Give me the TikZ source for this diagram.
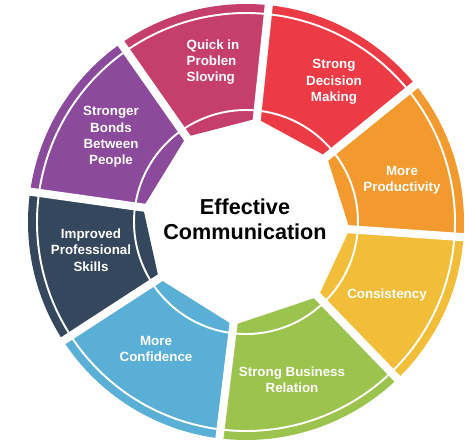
\documentclass[tikz,border=0pt]{standalone}
\usepackage{fontspec}
\setmainfont{Liberation Sans}

\definecolor{segpink}{RGB}{198,62,108}
\definecolor{segred}{RGB}{236,59,69}
\definecolor{segorange}{RGB}{243,154,46}
\definecolor{segyellow}{RGB}{242,190,58}
\definecolor{seggreen}{RGB}{155,195,77}
\definecolor{segblue}{RGB}{90,175,214}
\definecolor{segnavy}{RGB}{52,71,92}
\definecolor{segpurple}{RGB}{139,74,156}

\tikzset{
  lbl/.style={text=white, font=\fontsize{7.6}{9.3}\selectfont\bfseries, align=center},
  rim/.style={white, line width=1.1pt},
  gap/.style={white, line width=4.6pt},
}

\begin{document}
\begin{tikzpicture}[x=0.02cm, y=0.02cm]
\useasboundingbox (-246,-221) rectangle (228,222);
\foreach \a/\b/\c in {84/125/segpink, 39/84/segred, -4/39/segorange, -46/-4/segyellow,
  -97/-46/seggreen, -147/-97/segblue, 172/213/segnavy, 125/172/segpurple} {
  \fill[\c] (\a:104) -- (\b:104)
    -- (\b:218) arc[start angle=\b, end angle=\a, radius=218] -- cycle;
  \draw[rim] (\a:209) arc[start angle=\a, end angle=\b, radius=209];
  \draw[rim] (\a:112) arc[start angle=\a, end angle=\b, radius=112];
}
\foreach \a in {84, 39, -4, -46, -97, -147, 172, 125}
  \draw[gap] (\a:92) -- (\a:226);

\node[lbl, align=left] (quick) at (-33,160) {Quick in\\Problen\\Sloving};
\node[lbl] (decision) at (88,140) {Strong\\Decision\\Making};
\node[lbl] (productivity) at (156,42) {More\\Productivity};
\node[lbl] (consistency) at (141,-73) {Consistency};
\node[lbl] (business) at (46,-158) {Strong Business\\Relation};
\node[lbl] (confidence) at (-90,-127) {More\\Confidence};
\node[lbl] (skills) at (-155,-28) {Improved\\Professional\\Skills};
\node[lbl] (bonds) at (-135,85) {Stronger\\Bonds\\Between\\People};
\node[font=\fontsize{12.3}{14.2}\selectfont\bfseries, align=center] (centre) at (-1,3) {Effective\\Communication};
\end{tikzpicture}
\end{document}
